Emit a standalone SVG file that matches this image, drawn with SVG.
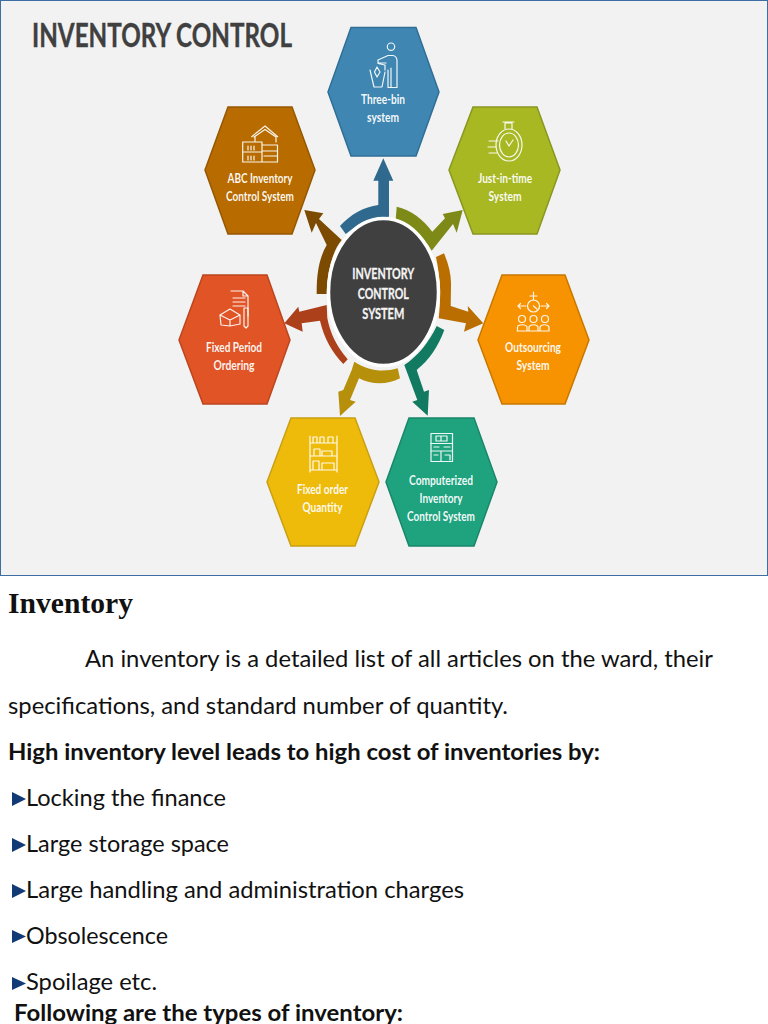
<svg xmlns="http://www.w3.org/2000/svg" width="768" height="1024" viewBox="0 0 768 1024">
<style>
.hex{stroke-width:1.5}
.lb{font-family:Lato,"Liberation Sans",sans-serif;font-size:12.5px;font-weight:700;fill:#fff;fill-opacity:.94;text-anchor:middle}
.ct{font-family:Lato,"Liberation Sans",sans-serif;font-size:15.5px;font-weight:700;fill:#f4f4f4;stroke:#f4f4f4;stroke-width:.3;text-anchor:middle}
.ic{fill:none;stroke:#fff;stroke-width:1.2;stroke-linejoin:round;stroke-linecap:round;opacity:.92}
.b{font-family:Lato,"Open Sans",sans-serif;font-size:23.5px;fill:#111}
.bb{font-family:Lato,"Open Sans",sans-serif;font-size:23.5px;font-weight:700;fill:#111}
.bu{fill:#123a75}
</style>
<rect x="0" y="0" width="768" height="1024" fill="#fff"/>
<rect id="panel" x="0.5" y="0.5" width="767" height="575" fill="#f2f2f2" stroke="#3c6ea3" stroke-width="1"/>
<text id="title" x="32" y="47" font-family="Lato,'Liberation Sans',sans-serif" font-size="33" font-weight="700" fill="#404040" stroke="#404040" stroke-width=".4" textLength="260" lengthAdjust="spacingAndGlyphs">INVENTORY CONTROL</text>

<g id="connectors">
<path fill="#2f6a8e" d="M383.3 158.3L393.3 180.7H389V216.7C372 218 358 224 345.7 234L340 226C351 214 364 207 378.3 205V180.7H373.3Z"/>
<path fill="#7d8a18" d="M396.7 206.7C411 210 423 219 432.3 231.7L445 218.3L442.7 214L462.7 210L456.7 232.7L453 224L431.7 250.7C423 236 411 225 395.7 219.3Z"/>
<path fill="#7c4a00" d="M304.3 210L323.3 213.3L319 219L341.7 240C333 250 327.5 270 326.7 294H316.7C316.5 275 319 258 326.7 245L316 223L311.7 232.7Z"/>
<path fill="#ba6e00" d="M444 253.3C449 265 451.500 276 451 286.7L450.7 306L468.3 311.7L467.7 306L483.3 323.3L464 331.7L466 323.3L438.7 318.3C441 298 440 275 436 257Z"/>
<path fill="#ac401b" d="M326.7 305L299.3 311.7L298.3 306.7L284.3 323.3L302.7 331.7L301.7 323.3L320 320.7C324 338 332 352 343.3 364L347.7 359.3C337 347 330 333 327.3 318Z"/>
<path fill="#b68f0b" d="M400 378.3L397.7 368.3C382 373 367 370 354.3 361.7L351.7 370L343.3 390L338.3 391.7L340 416L355.7 401.7L350 400L359 378.3C372 385 387 385 400 378.3Z"/>
<path fill="#137a62" d="M436.7 326L444.3 330C438 347 429 360 416.7 370L424 391.7L429 390L427.7 415.7L412.3 401.7L417.3 400L404.3 365C418 356 429 342 436.7 326Z"/>
</g>

<g id="center">
<ellipse cx="383.5" cy="292" rx="55" ry="73.500" fill="#404040" stroke="#fff" stroke-width="3.500"/>
<text class="ct" x="383.3" y="278.7" textLength="62" lengthAdjust="spacingAndGlyphs">INVENTORY</text>
<text class="ct" x="383.3" y="299" textLength="51" lengthAdjust="spacingAndGlyphs">CONTROL</text>
<text class="ct" x="383.3" y="319" textLength="42" lengthAdjust="spacingAndGlyphs">SYSTEM</text>
</g>

<g id="three-bin">
<polygon class="hex" fill="#3f87b2" stroke="#2f6f97" points="351,27.5 416,27.5 439,92 416,156 351,156 328,92"/>
<g class="ic"><circle cx="391" cy="46.7" r="3.7"/><path d="M378 60L388 55.500H393C396 56 397 58 397 61V87.500H388V70M391 87.500V68M378 60V63H386M378 63.500L385 65V70"/><path d="M370 70L374 87H382L385 72M374.500 72L377 67L380 72L377 77Z"/></g>
<text class="lb" x="383" y="104" textLength="44" lengthAdjust="spacingAndGlyphs">Three-bin</text>
<text class="lb" x="383" y="122" textLength="32" lengthAdjust="spacingAndGlyphs">system</text>
</g>

<g id="abc">
<polygon class="hex" fill="#b86c00" stroke="#955700" points="228,107 292,107 315,170 292,234 228,234 205,170"/>
<g class="ic"><path d="M251.700 136.700L265 126L277.700 136.700M254 137L265 129.500L276 137M255 141.500V137M276 142V137"/><path d="M242.700 142H262V162H242.700ZM242.700 152H262M262 145H277.500V162H262M262 151H277M264 156H277"/><path d="M248 146V150M251 146V150M254 146V150M248 156V160M251 156V160M254 156V160"/></g>
<text class="lb" x="260" y="183" textLength="65" lengthAdjust="spacingAndGlyphs">ABC Inventory</text>
<text class="lb" x="260" y="201" textLength="68" lengthAdjust="spacingAndGlyphs">Control System</text>
</g>

<g id="jit">
<polygon class="hex" fill="#a8b823" stroke="#8a9720" points="473,107 537,107 560,170 537,234 473,234 449,170"/>
<g class="ic"><ellipse cx="509" cy="145" rx="13" ry="16"/><ellipse cx="509" cy="145" rx="9.500" ry="12"/><path d="M505 128.500V123H512V128.500M503 122H514M509 146L506 141M509 146L513 140M489 141H498M488 147H496M489 153H497"/></g>
<text class="lb" x="505" y="183" textLength="54" lengthAdjust="spacingAndGlyphs">Just-in-time</text>
<text class="lb" x="505" y="201" textLength="33" lengthAdjust="spacingAndGlyphs">System</text>
</g>

<g id="outsourcing">
<polygon class="hex" fill="#f79300" stroke="#c87800" points="502,275 565,275 589,340 565,404 502,404 478,340"/>
<g class="ic"><circle cx="533.500" cy="306" r="6"/><path d="M533.500 300V292M530 296H537M533.500 306L537 309M526 306H518M520.500 303.500L518 306L520.500 308.500M541 306H549M546.500 303.500L549 306L546.500 308.500"/><circle cx="522" cy="319" r="3.500"/><circle cx="533.500" cy="319" r="3.500"/><circle cx="545" cy="319" r="3.500"/><path d="M517.500 331V327C518 324 526 324 527 327V331M529 331V327C530 324 537 324 538 327V331M540 331V327C541 324 548 324 549 327V331M517 331H549"/></g>
<text class="lb" x="533" y="352" textLength="56" lengthAdjust="spacingAndGlyphs">Outsourcing</text>
<text class="lb" x="533" y="370" textLength="33" lengthAdjust="spacingAndGlyphs">System</text>
</g>

<g id="computerized">
<polygon class="hex" fill="#1fa37f" stroke="#19876a" points="409,418 474,418 497,482 474,546 409,546 386,482"/>
<g class="ic"><rect x="431" y="433.500" width="21.500" height="28"/><path d="M431 443.500H452.500M431 451H441V461.500M441 451H452.500M436 436H447V441H436ZM444 447H450M434 455H438M445 455H450V460M434 447H439M441 436V441"/></g>
<text class="lb" x="441" y="485" textLength="64" lengthAdjust="spacingAndGlyphs">Computerized</text>
<text class="lb" x="441" y="503" textLength="43" lengthAdjust="spacingAndGlyphs">Inventory</text>
<text class="lb" x="441" y="521" textLength="68" lengthAdjust="spacingAndGlyphs">Control System</text>
</g>

<g id="fixed-order">
<polygon class="hex" fill="#efbb0a" stroke="#c9a012" points="291,418 355,418 379,482 355,546 291,546 267,482"/>
<g class="ic"><path d="M310 436V472M337 436V472M310 443H337M310 456H337M310 470H337M313 437H317V443H313ZM320 437H324V443H320ZM328 437H333V443H328ZM314 449H320V456H314ZM322 451H332V456H322ZM313 461H319V470H313ZM322 463H334V470H322Z"/></g>
<text class="lb" x="322.500" y="494" textLength="51" lengthAdjust="spacingAndGlyphs">Fixed order</text>
<text class="lb" x="322.500" y="512" textLength="40" lengthAdjust="spacingAndGlyphs">Quantity</text>
</g>

<g id="fixed-period">
<polygon class="hex" fill="#e05426" stroke="#bb4620" points="203,275 267,275 290,340 267,404 203,404 179,340"/>
<g class="ic"><path d="M231 291H243L248 296V316M243 291V296H248M233 298H245M233 302H245M233 306H245"/><path d="M220 315L230 309L240 315V324L230 326L221 325ZM220 315L230 320L240 315M230 320V326"/><path d="M244 308V326L246 328L248 326V308Z"/></g>
<text class="lb" x="234" y="352" textLength="56" lengthAdjust="spacingAndGlyphs">Fixed Period</text>
<text class="lb" x="234" y="370" textLength="41" lengthAdjust="spacingAndGlyphs">Ordering</text>
</g>

<g id="body">
<text x="8" y="613" font-family="'Liberation Serif',serif" font-size="29" font-weight="700" fill="#111" textLength="125" lengthAdjust="spacingAndGlyphs">Inventory</text>
<text class="b" x="85" y="667" textLength="628" lengthAdjust="spacingAndGlyphs">An inventory is a detailed list of all articles on the ward, their</text>
<text class="b" x="8" y="714" textLength="500" lengthAdjust="spacingAndGlyphs">specifications, and standard number of quantity.</text>
<text class="bb" x="8" y="760" textLength="592" lengthAdjust="spacingAndGlyphs">High inventory level leads to high cost of inventories by:</text>
<polygon class="bu" points="12,792 26,799 12,806"/>
<text class="b" x="26" y="806" textLength="200" lengthAdjust="spacingAndGlyphs">Locking the finance</text>
<polygon class="bu" points="12,838 26,845 12,852"/>
<text class="b" x="26" y="852" textLength="203" lengthAdjust="spacingAndGlyphs">Large storage space</text>
<polygon class="bu" points="12,884 26,891 12,898"/>
<text class="b" x="26" y="898" textLength="438" lengthAdjust="spacingAndGlyphs">Large handling and administration charges</text>
<polygon class="bu" points="12,930 26,936.500 12,943"/>
<text class="b" x="26" y="944" textLength="142" lengthAdjust="spacingAndGlyphs">Obsolescence</text>
<polygon class="bu" points="12,977 26,983.500 12,990"/>
<text class="b" x="26" y="990" textLength="131" lengthAdjust="spacingAndGlyphs">Spoilage etc.</text>
<text class="bb" x="14" y="1021" textLength="389" lengthAdjust="spacingAndGlyphs">Following are the types of inventory:</text>
</g>
</svg>
